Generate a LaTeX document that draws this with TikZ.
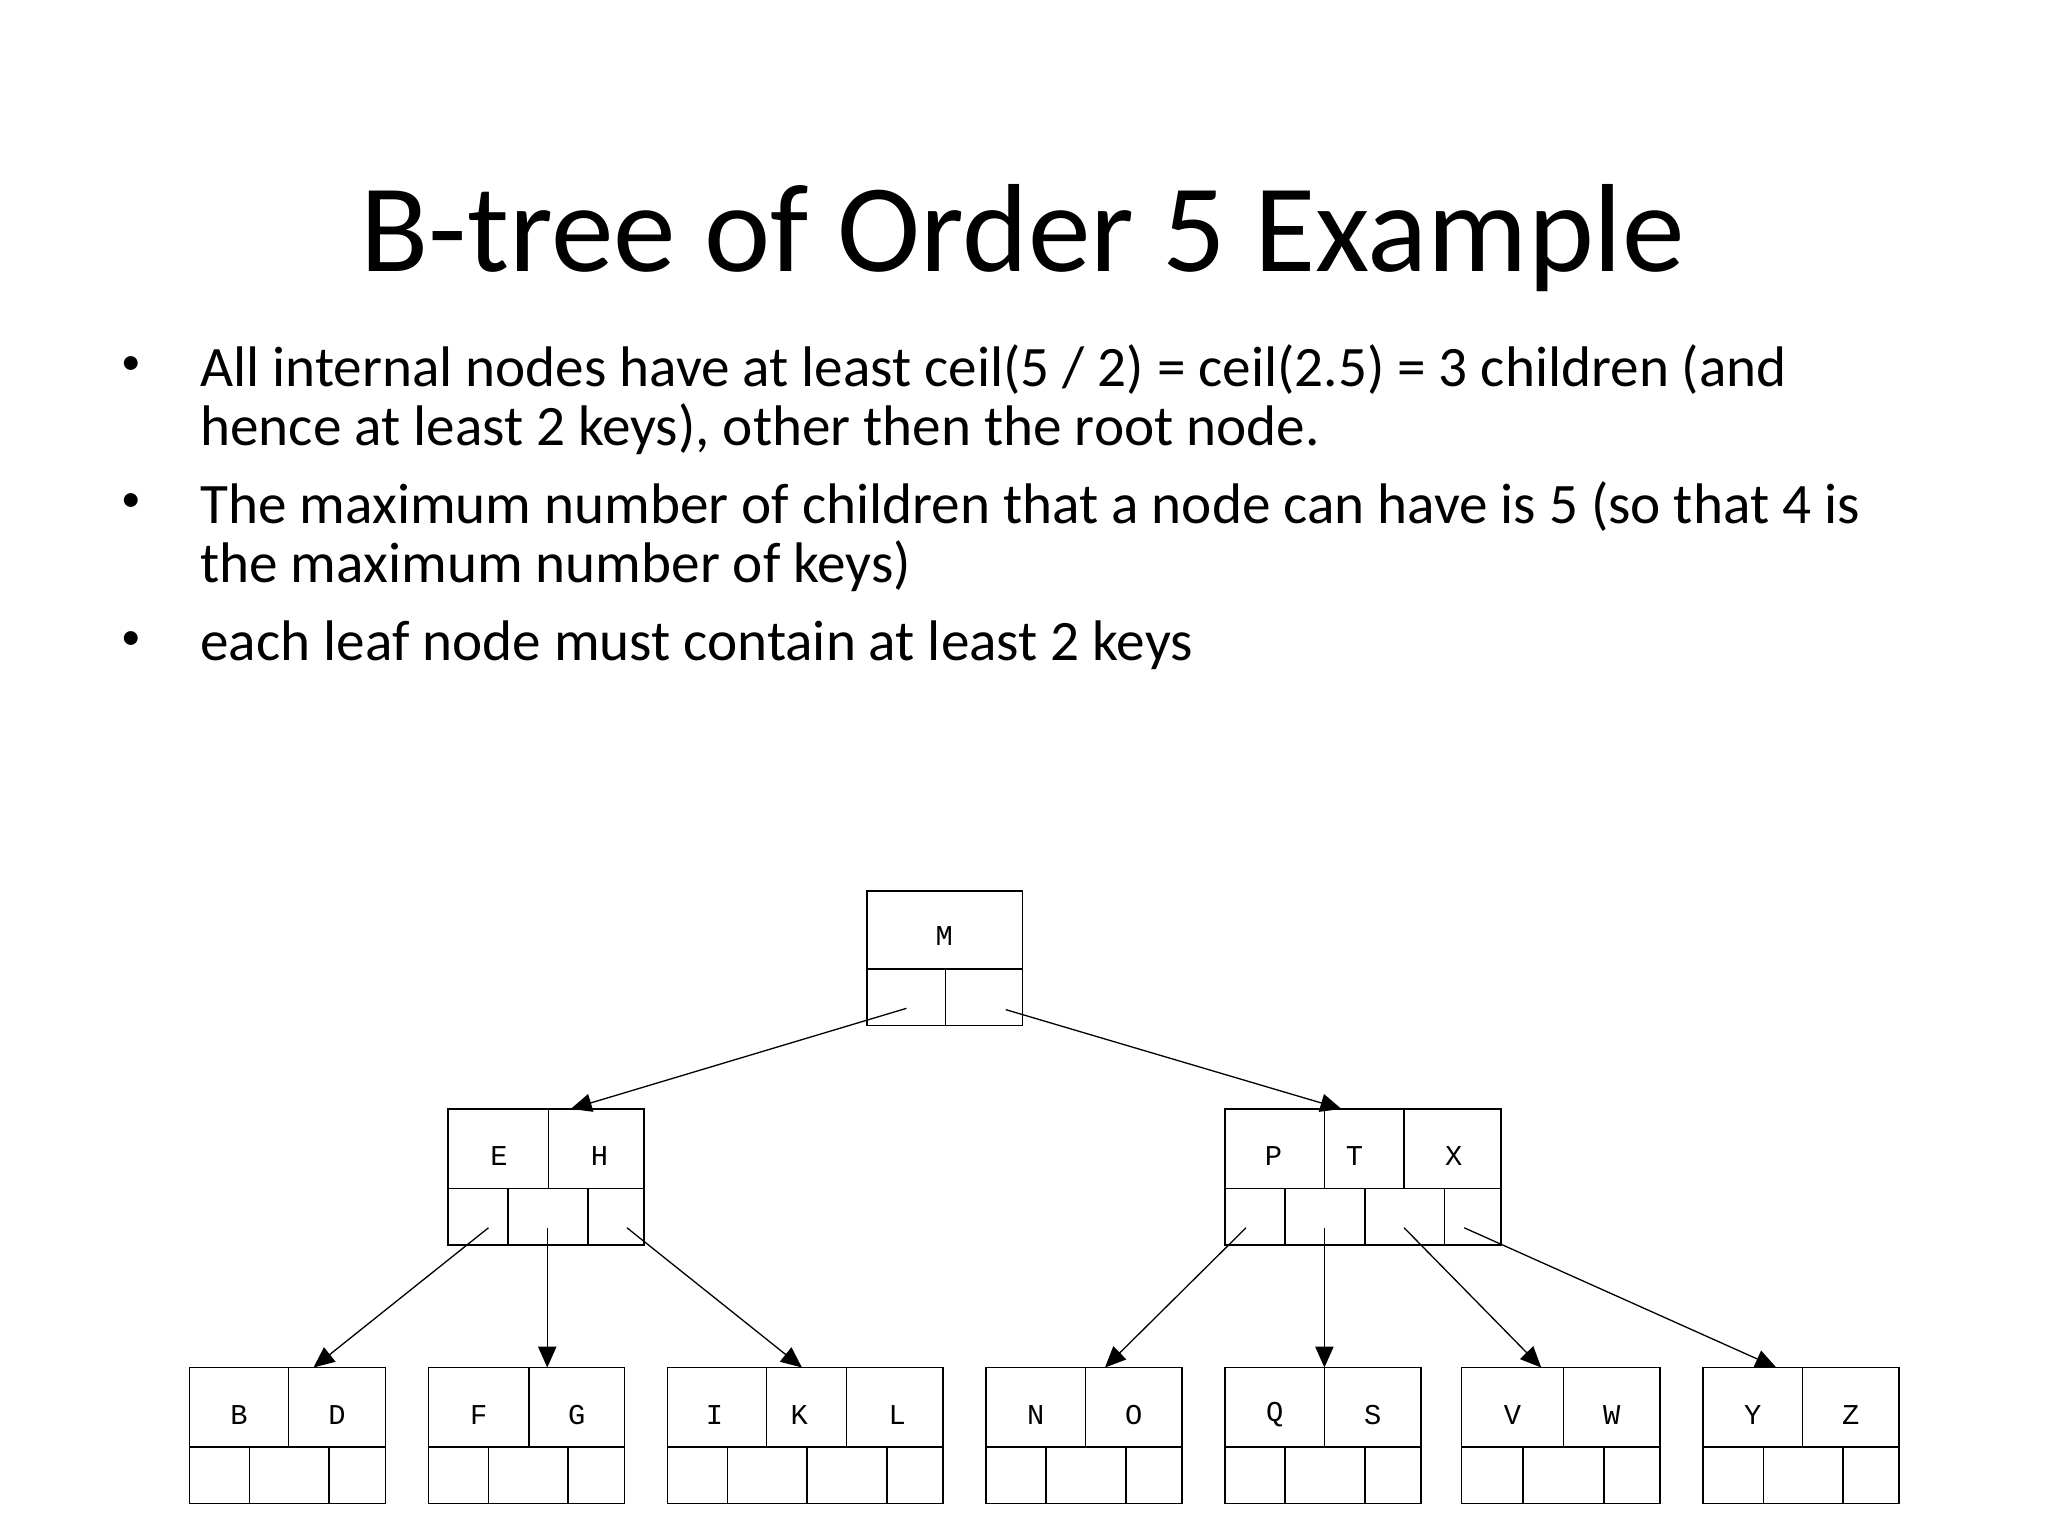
\documentclass[tikz,border=0pt]{standalone}
\usepackage{fontspec}
\setmainfont{Carlito}
\newfontfamily\keyfont{Liberation Mono}
\usetikzlibrary{arrows.meta}
\begin{document}
\begin{tikzpicture}[x=0.5pt,y=-0.5pt,
  cell/.style={draw,line width=0.6pt},
  key/.style={font=\keyfont\fontsize{11}{11}\selectfont,anchor=center},
  ptr/.style={-{Triangle[length=8pt,width=7pt]},line width=0.5pt},
  txt/.style={anchor=base west,font=\fontsize{21.9}{24}\selectfont,inner sep=0}]
\useasboundingbox (0,0) rectangle (1568,1176);
\node[anchor=base,font=\fontsize{48}{50}\selectfont,inner sep=0] (title) at (783,208) {B-tree of Order 5 Example};
\foreach \y/\n in {287/b1,392/b2,497/b3}{\node[anchor=base west,font=\fontsize{15}{15}\selectfont,inner sep=0] (\n) at (93,\y) {\textbullet};}
\node[txt] (t1) at (153,296) {All internal nodes have at least ceil(5 / 2) = ceil(2.5) = 3 children (and};
\node[txt] (t1b) at (153,341) {hence at least 2 keys), other then the root node.};
\node[txt] (t2) at (153,401) {The maximum number of children that a node can have is 5 (so that 4 is};
\node[txt] (t2b) at (153,446) {the maximum number of keys)};
\node[txt] (t3) at (153,506) {each leaf node must contain at least 2 keys};
\newcommand\bbox[6]{%
  \draw[cell] (#2,#4) rectangle (#3,#5); \draw[cell] (#2,#6) -- (#3,#6);
  \coordinate (#1) at ({(#2+#3)/2},#4);}
\bbox{root}{664}{783}{682}{785}{742}
\draw[cell] (724,742)--(724,785);
\node[key] (kM) at (723,717) {M};
\bbox{eh}{343}{493}{849}{953}{910}
\foreach \x in {420}{\draw[cell] (\x,849)--(\x,910);}
\foreach \x in {389,450}{\draw[cell] (\x,910)--(\x,953);}
\node[key] at (382,885){E}; \node[key] at (459,885){H};
\bbox{ptx}{938}{1149}{849}{953}{910}
\foreach \x in {1014,1075}{\draw[cell] (\x,849)--(\x,910);}
\foreach \x in {984,1045,1106}{\draw[cell] (\x,910)--(\x,953);}
\node[key] at (975,885){P}; \node[key] at (1037,885){T}; \node[key] at (1113,885){X};
\foreach \n/\a/\b/\s/\p/\q/\la/\lb in {bd/145/295/221/191/252/B/D, fg/328/478/405/374/435/F/G, no/755/905/831/801/862/N/O, qs/938/1088/1014/984/1045/Q/S, vw/1119/1271/1197/1166/1228/V/W, yz/1304/1454/1380/1350/1411/Y/Z}{
  \draw[cell] (\a,1047) rectangle (\b,1151); \draw[cell] (\a,1108)--(\b,1108);
  \draw[cell] (\s,1047)--(\s,1108); \draw[cell] (\p,1108)--(\p,1151); \draw[cell] (\q,1108)--(\q,1151);
  \node[key] at ({(\a+\s)/2},1083) {\la}; \node[key] at ({(\s+\b)/2},1083) {\lb};}
\draw[cell] (511,1047) rectangle (722,1151); \draw[cell] (511,1108)--(722,1108);
\foreach \x in {587,648}{\draw[cell] (\x,1047)--(\x,1108);}
\foreach \x in {557,618,679}{\draw[cell] (\x,1108)--(\x,1151);}
\node[key] at (547,1083){I}; \node[key] at (612,1083){K}; \node[key] at (687,1083){L};
\coordinate (r1) at (694,772); \coordinate (r2) at (770,773);
\coordinate (ehA) at (437,849); \coordinate (ptxA) at (1027,849);
\coordinate (e1) at (374,940); \coordinate (e2) at (419,940); \coordinate (e3) at (480,940);
\coordinate (p1) at (954,940); \coordinate (p2) at (1014,940); \coordinate (p3) at (1075,940); \coordinate (p4) at (1121,940);
\coordinate (bdA) at (240,1047); \coordinate (fgA) at (419,1047); \coordinate (iklA) at (614,1047);
\coordinate (noA) at (846,1047); \coordinate (qsA) at (1014,1047); \coordinate (vwA) at (1180,1047); \coordinate (yzA) at (1360,1047);
\draw[ptr] (r1)--(ehA); \draw[ptr] (r2)--(ptxA);
\draw[ptr] (e1)--(bdA); \draw[ptr] (e2)--(fgA); \draw[ptr] (e3)--(iklA);
\draw[ptr] (p1)--(noA); \draw[ptr] (p2)--(qsA); \draw[ptr] (p3)--(vwA); \draw[ptr] (p4)--(yzA);
\end{tikzpicture}
\end{document}
